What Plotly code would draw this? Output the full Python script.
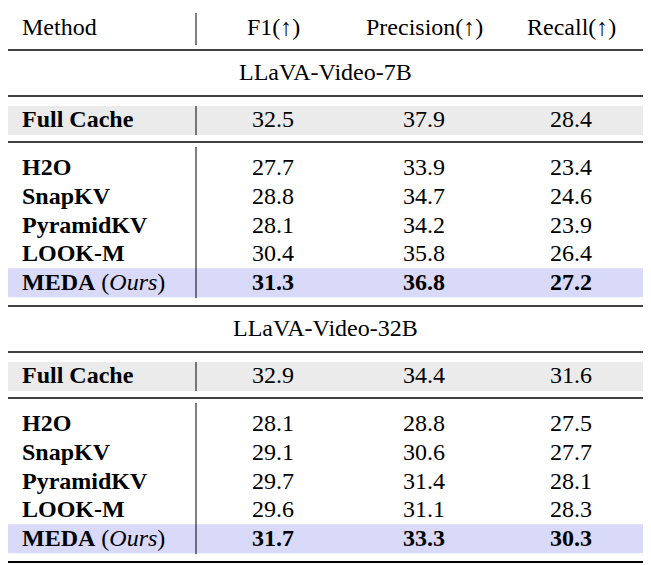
import plotly.graph_objects as go

headers = ["Method", "F1(↑)", "Precision(↑)", "Recall(↑)"]
sections = ["LLaVA-Video-7B", "LLaVA-Video-32B"]
methods = ["H2O", "SnapKV", "PyramidKV", "LOOK-M", "MEDA"]
full_7b = [32.5, 37.9, 28.4]
full_32b = [32.9, 34.4, 31.6]
f1_7b = [27.7, 28.8, 28.1, 30.4, 31.3]
prec_7b = [33.9, 34.7, 34.2, 35.8, 36.8]
rec_7b = [23.4, 24.6, 23.9, 26.4, 27.2]
f1_32b = [28.1, 29.1, 29.7, 29.6, 31.7]
prec_32b = [28.8, 30.6, 31.4, 31.1, 33.3]
rec_32b = [27.5, 27.7, 28.1, 28.3, 30.3]

W, H = 651, 565
OFF = 8  # page body margin compensation
FONT = "Times New Roman, Liberation Serif, Tinos, DejaVu Serif, serif"
FS = 24
colx = [21, 273, 424, 571]
L, R = 4, 647
VX = 196
GRAY = "#ebebeb"
PURPLE = "#d9d9fa"

shapes, ann = [], []

def hline(y, w=1.3):
    shapes.append(dict(type="line", x0=L, x1=R, y0=y, y1=y, line=dict(color="black", width=w)))

def vline(y0, y1):
    shapes.append(dict(type="line", x0=VX, x1=VX, y0=y0, y1=y1, line=dict(color="black", width=1)))

def band(y0, y1, c):
    shapes.append(dict(type="rect", x0=L, x1=R, y0=y0, y1=y1, fillcolor=c, line=dict(width=0), layer="below"))

def text(x, y, s, anchor="center"):
    ann.append(dict(x=x, y=y, text=s, showarrow=False, xanchor=anchor, yanchor="middle",
                    borderpad=0, font=dict(family=FONT, size=FS, color="black")))

hline(4, 2.2)
text(colx[0], 27, headers[0], "left")
for i in range(1, 4):
    text(colx[i], 27, headers[i])
vline(13, 45)
hline(50)

def section(top, name, full, f1, pr, rc):
    text(W / 2, top + 22, name)
    hline(top + 46)
    band(top + 56, top + 85, GRAY)
    text(colx[0], top + 69, "<b>Full Cache</b>", "left")
    for i, v in enumerate(full):
        text(colx[i + 1], top + 69, f"{v:.1f}")
    vline(top + 56, top + 85)
    hline(top + 92)
    step = 28.8
    y0 = top + 117
    n = len(methods)
    band(y0 + (n - 1) * step - 14, y0 + (n - 1) * step + 15, PURPLE)
    vline(top + 97, y0 + (n - 1) * step + 16)
    for k, m in enumerate(methods):
        y = y0 + k * step
        last = k == n - 1
        label = "<b>MEDA</b> (<i>Ours</i>)" if last else f"<b>{m}</b>"
        text(colx[0], y, label, "left")
        for i, v in enumerate([f1[k], pr[k], rc[k]]):
            s = f"{v:.1f}"
            text(colx[i + 1], y, f"<b>{s}</b>" if last else s)

section(50, sections[0], full_7b, f1_7b, prec_7b, rec_7b)
hline(306)
section(306, sections[1], full_32b, f1_32b, prec_32b, rec_32b)
hline(562, 2.2)

fig = go.Figure()
fig.update_layout(width=W, height=H, margin=dict(l=0, r=0, t=0, b=0),
                  paper_bgcolor="white", plot_bgcolor="white",
                  xaxis=dict(range=[OFF, W + OFF], visible=False, fixedrange=True),
                  yaxis=dict(range=[H + OFF, OFF], visible=False, fixedrange=True),
                  shapes=shapes, annotations=ann, showlegend=False)
fig.write_html("out.html")
